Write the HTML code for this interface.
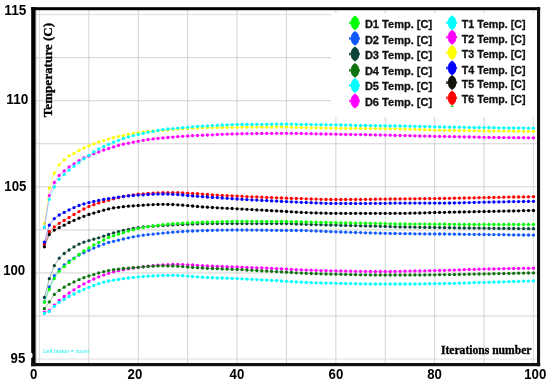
<!DOCTYPE html>
<html><head><meta charset="utf-8"><title>Temperature vs Iterations</title>
<style>
html,body{margin:0;padding:0;background:#fff;}
body{width:550px;height:385px;overflow:hidden;}
svg{display:block;}
.tk{font-family:"Liberation Sans",sans-serif;font-weight:bold;font-size:14px;fill:#000;}
.lg{font-family:"Liberation Sans",sans-serif;font-weight:bold;font-size:10.8px;fill:#111;stroke:#111;stroke-width:0.3px;}
.ax{font-family:"Liberation Serif",serif;font-weight:bold;font-size:13px;fill:#000;stroke:#000;stroke-width:0.35px;}
.hint{font-family:"Liberation Sans",sans-serif;font-size:6px;fill:#19f3f3;}
</style></head><body>
<svg width="550" height="385" viewBox="0 0 550 385">
<rect x="0" y="0" width="550" height="385" fill="#ffffff"/>
<path d="M88.85 10V363M138.25 10V363M187.65 10V363M237.05 10V363M286.45 10V363M335.85 10V363M385.25 10V363M434.65 10V363M484.05 10V363M35 57.66H538M35 100.72H538M35 143.78H538M35 186.84H538M35 229.90H538M35 272.96H538M35 316.02H538" stroke="#c6c6c6" stroke-width="0.78" fill="none"/>
<path d="M39.45 10V363M533.45 10V363M35 14.60H538M35 359.08H538" stroke="#d4d4d4" stroke-width="0.78" fill="none"/>
<rect x="331" y="13" width="206.5" height="104" fill="#ffffff"/>
<g stroke="#ff0000" fill="none"><path d="M44.4 244.4 L49.3 231.7 L54.3 226.9 L59.2 223.3 L64.2 220.4 L69.1 217.5 L74.0 214.5 L79.0 211.6 L83.9 209.0 L88.9 206.5 L93.8 204.7 L98.7 202.9 L103.7 201.5 L108.6 200.3 L113.6 198.8 L118.5 197.6 L123.4 196.5 L128.4 195.6 L133.3 194.8 L138.2 194.2 L143.2 193.8 L148.1 193.4 L153.1 193.1 L158.0 192.8 L163.0 192.7 L167.9 192.6 L172.8 192.6 L177.8 192.7 L182.7 192.9 L187.7 193.2 L192.6 193.5 L197.5 193.7 L202.5 194.1 L207.4 194.5 L212.4 194.9 L217.3 195.1 L222.2 195.4 L227.2 195.6 L232.1 195.9 L237.1 196.1 L242.0 196.3 L246.9 196.6 L251.9 196.8 L256.8 197.0 L261.8 197.2 L266.7 197.4 L271.6 197.6 L276.6 197.8 L281.5 198.0 L286.5 198.2 L291.4 198.4 L296.3 198.5 L301.3 198.6 L306.2 198.8 L311.2 199.0 L316.1 199.1 L321.0 199.3 L326.0 199.4 L330.9 199.5 L335.9 199.5 L340.8 199.5 L345.7 199.5 L350.7 199.4 L355.6 199.4 L360.6 199.4 L365.5 199.3 L370.4 199.3 L375.4 199.2 L380.3 199.1 L385.2 199.1 L390.2 199.0 L395.1 199.0 L400.1 198.9 L405.0 198.8 L410.0 198.8 L414.9 198.8 L419.8 198.7 L424.8 198.7 L429.7 198.6 L434.7 198.6 L439.6 198.5 L444.5 198.4 L449.5 198.3 L454.4 198.2 L459.4 198.1 L464.3 198.0 L469.2 197.9 L474.2 197.8 L479.1 197.7 L484.1 197.6 L489.0 197.5 L493.9 197.4 L498.9 197.3 L503.8 197.2 L508.8 197.1 L513.7 197.0 L518.6 197.0 L523.6 196.9 L528.5 196.8 L533.5 196.7" stroke-width="0.7" stroke-opacity="0.6"/><path d="M44.4 244.4h0M49.3 231.7h0M54.3 226.9h0M59.2 223.3h0M64.2 220.4h0M69.1 217.5h0M74.0 214.5h0M79.0 211.6h0M83.9 209.0h0M88.9 206.5h0M93.8 204.7h0M98.7 202.9h0M103.7 201.5h0M108.6 200.3h0M113.6 198.8h0M118.5 197.6h0M123.4 196.5h0M128.4 195.6h0M133.3 194.8h0M138.2 194.2h0M143.2 193.8h0M148.1 193.4h0M153.1 193.1h0M158.0 192.8h0M163.0 192.7h0M167.9 192.6h0M172.8 192.6h0M177.8 192.7h0M182.7 192.9h0M187.7 193.2h0M192.6 193.5h0M197.5 193.7h0M202.5 194.1h0M207.4 194.5h0M212.4 194.9h0M217.3 195.1h0M222.2 195.4h0M227.2 195.6h0M232.1 195.9h0M237.1 196.1h0M242.0 196.3h0M246.9 196.6h0M251.9 196.8h0M256.8 197.0h0M261.8 197.2h0M266.7 197.4h0M271.6 197.6h0M276.6 197.8h0M281.5 198.0h0M286.5 198.2h0M291.4 198.4h0M296.3 198.5h0M301.3 198.6h0M306.2 198.8h0M311.2 199.0h0M316.1 199.1h0M321.0 199.3h0M326.0 199.4h0M330.9 199.5h0M335.9 199.5h0M340.8 199.5h0M345.7 199.5h0M350.7 199.4h0M355.6 199.4h0M360.6 199.4h0M365.5 199.3h0M370.4 199.3h0M375.4 199.2h0M380.3 199.1h0M385.2 199.1h0M390.2 199.0h0M395.1 199.0h0M400.1 198.9h0M405.0 198.8h0M410.0 198.8h0M414.9 198.8h0M419.8 198.7h0M424.8 198.7h0M429.7 198.6h0M434.7 198.6h0M439.6 198.5h0M444.5 198.4h0M449.5 198.3h0M454.4 198.2h0M459.4 198.1h0M464.3 198.0h0M469.2 197.9h0M474.2 197.8h0M479.1 197.7h0M484.1 197.6h0M489.0 197.5h0M493.9 197.4h0M498.9 197.3h0M503.8 197.2h0M508.8 197.1h0M513.7 197.0h0M518.6 197.0h0M523.6 196.9h0M528.5 196.8h0M533.5 196.7h0" stroke-width="3.3" stroke-linecap="round"/></g>
<g stroke="#000000" fill="none"><path d="M44.4 246.8 L49.3 234.5 L54.3 230.1 L59.2 227.6 L64.2 225.2 L69.1 222.5 L74.0 220.4 L79.0 218.2 L83.9 216.3 L88.9 214.5 L93.8 213.1 L98.7 211.6 L103.7 210.2 L108.6 208.9 L113.6 207.9 L118.5 207.3 L123.4 206.7 L128.4 206.2 L133.3 205.8 L138.2 205.5 L143.2 205.2 L148.1 204.8 L153.1 204.6 L158.0 204.4 L163.0 204.3 L167.9 204.4 L172.8 204.5 L177.8 204.8 L182.7 205.2 L187.7 205.6 L192.6 206.0 L197.5 206.5 L202.5 206.9 L207.4 207.2 L212.4 207.5 L217.3 207.8 L222.2 208.1 L227.2 208.3 L232.1 208.5 L237.1 208.8 L242.0 209.1 L246.9 209.3 L251.9 209.6 L256.8 209.9 L261.8 210.1 L266.7 210.4 L271.6 210.7 L276.6 210.9 L281.5 211.2 L286.5 211.5 L291.4 211.8 L296.3 212.1 L301.3 212.4 L306.2 212.6 L311.2 212.8 L316.1 212.9 L321.0 213.1 L326.0 213.2 L330.9 213.3 L335.9 213.3 L340.8 213.3 L345.7 213.3 L350.7 213.3 L355.6 213.3 L360.6 213.3 L365.5 213.3 L370.4 213.3 L375.4 213.3 L380.3 213.3 L385.2 213.3 L390.2 213.3 L395.1 213.3 L400.1 213.3 L405.0 213.3 L410.0 213.2 L414.9 213.1 L419.8 213.0 L424.8 212.8 L429.7 212.7 L434.7 212.5 L439.6 212.4 L444.5 212.3 L449.5 212.2 L454.4 212.1 L459.4 212.0 L464.3 211.9 L469.2 211.8 L474.2 211.7 L479.1 211.6 L484.1 211.5 L489.0 211.4 L493.9 211.3 L498.9 211.2 L503.8 211.1 L508.8 211.0 L513.7 210.9 L518.6 210.8 L523.6 210.7 L528.5 210.6 L533.5 210.5" stroke-width="0.7" stroke-opacity="0.6"/><path d="M44.4 246.8h0M49.3 234.5h0M54.3 230.1h0M59.2 227.6h0M64.2 225.2h0M69.1 222.5h0M74.0 220.4h0M79.0 218.2h0M83.9 216.3h0M88.9 214.5h0M93.8 213.1h0M98.7 211.6h0M103.7 210.2h0M108.6 208.9h0M113.6 207.9h0M118.5 207.3h0M123.4 206.7h0M128.4 206.2h0M133.3 205.8h0M138.2 205.5h0M143.2 205.2h0M148.1 204.8h0M153.1 204.6h0M158.0 204.4h0M163.0 204.3h0M167.9 204.4h0M172.8 204.5h0M177.8 204.8h0M182.7 205.2h0M187.7 205.6h0M192.6 206.0h0M197.5 206.5h0M202.5 206.9h0M207.4 207.2h0M212.4 207.5h0M217.3 207.8h0M222.2 208.1h0M227.2 208.3h0M232.1 208.5h0M237.1 208.8h0M242.0 209.1h0M246.9 209.3h0M251.9 209.6h0M256.8 209.9h0M261.8 210.1h0M266.7 210.4h0M271.6 210.7h0M276.6 210.9h0M281.5 211.2h0M286.5 211.5h0M291.4 211.8h0M296.3 212.1h0M301.3 212.4h0M306.2 212.6h0M311.2 212.8h0M316.1 212.9h0M321.0 213.1h0M326.0 213.2h0M330.9 213.3h0M335.9 213.3h0M340.8 213.3h0M345.7 213.3h0M350.7 213.3h0M355.6 213.3h0M360.6 213.3h0M365.5 213.3h0M370.4 213.3h0M375.4 213.3h0M380.3 213.3h0M385.2 213.3h0M390.2 213.3h0M395.1 213.3h0M400.1 213.3h0M405.0 213.3h0M410.0 213.2h0M414.9 213.1h0M419.8 213.0h0M424.8 212.8h0M429.7 212.7h0M434.7 212.5h0M439.6 212.4h0M444.5 212.3h0M449.5 212.2h0M454.4 212.1h0M459.4 212.0h0M464.3 211.9h0M469.2 211.8h0M474.2 211.7h0M479.1 211.6h0M484.1 211.5h0M489.0 211.4h0M493.9 211.3h0M498.9 211.2h0M503.8 211.1h0M508.8 211.0h0M513.7 210.9h0M518.6 210.8h0M523.6 210.7h0M528.5 210.6h0M533.5 210.5h0" stroke-width="3.3" stroke-linecap="round"/></g>
<g stroke="#0000ff" fill="none"><path d="M44.4 242.2 L49.3 225.2 L54.3 218.6 L59.2 215.0 L64.2 212.4 L69.1 209.9 L74.0 207.6 L79.0 205.5 L83.9 203.9 L88.9 202.6 L93.8 201.5 L98.7 200.4 L103.7 199.4 L108.6 198.6 L113.6 197.8 L118.5 197.1 L123.4 196.5 L128.4 195.9 L133.3 195.5 L138.2 195.1 L143.2 194.8 L148.1 194.5 L153.1 194.2 L158.0 194.1 L163.0 194.0 L167.9 194.1 L172.8 194.3 L177.8 194.6 L182.7 195.0 L187.7 195.5 L192.6 195.9 L197.5 196.3 L202.5 196.7 L207.4 197.0 L212.4 197.4 L217.3 197.6 L222.2 198.0 L227.2 198.3 L232.1 198.7 L237.1 199.0 L242.0 199.3 L246.9 199.6 L251.9 199.9 L256.8 200.1 L261.8 200.4 L266.7 200.6 L271.6 200.9 L276.6 201.1 L281.5 201.4 L286.5 201.6 L291.4 201.8 L296.3 202.1 L301.3 202.3 L306.2 202.5 L311.2 202.7 L316.1 202.9 L321.0 203.1 L326.0 203.3 L330.9 203.4 L335.9 203.4 L340.8 203.4 L345.7 203.4 L350.7 203.4 L355.6 203.4 L360.6 203.4 L365.5 203.4 L370.4 203.3 L375.4 203.3 L380.3 203.3 L385.2 203.3 L390.2 203.2 L395.1 203.1 L400.1 203.1 L405.0 203.1 L410.0 203.1 L414.9 203.1 L419.8 203.1 L424.8 203.1 L429.7 203.1 L434.7 203.1 L439.6 203.1 L444.5 203.1 L449.5 203.0 L454.4 202.9 L459.4 202.8 L464.3 202.7 L469.2 202.6 L474.2 202.4 L479.1 202.3 L484.1 202.2 L489.0 202.1 L493.9 202.0 L498.9 201.9 L503.8 201.8 L508.8 201.7 L513.7 201.6 L518.6 201.6 L523.6 201.5 L528.5 201.4 L533.5 201.3" stroke-width="0.7" stroke-opacity="0.6"/><path d="M44.4 242.2h0M49.3 225.2h0M54.3 218.6h0M59.2 215.0h0M64.2 212.4h0M69.1 209.9h0M74.0 207.6h0M79.0 205.5h0M83.9 203.9h0M88.9 202.6h0M93.8 201.5h0M98.7 200.4h0M103.7 199.4h0M108.6 198.6h0M113.6 197.8h0M118.5 197.1h0M123.4 196.5h0M128.4 195.9h0M133.3 195.5h0M138.2 195.1h0M143.2 194.8h0M148.1 194.5h0M153.1 194.2h0M158.0 194.1h0M163.0 194.0h0M167.9 194.1h0M172.8 194.3h0M177.8 194.6h0M182.7 195.0h0M187.7 195.5h0M192.6 195.9h0M197.5 196.3h0M202.5 196.7h0M207.4 197.0h0M212.4 197.4h0M217.3 197.6h0M222.2 198.0h0M227.2 198.3h0M232.1 198.7h0M237.1 199.0h0M242.0 199.3h0M246.9 199.6h0M251.9 199.9h0M256.8 200.1h0M261.8 200.4h0M266.7 200.6h0M271.6 200.9h0M276.6 201.1h0M281.5 201.4h0M286.5 201.6h0M291.4 201.8h0M296.3 202.1h0M301.3 202.3h0M306.2 202.5h0M311.2 202.7h0M316.1 202.9h0M321.0 203.1h0M326.0 203.3h0M330.9 203.4h0M335.9 203.4h0M340.8 203.4h0M345.7 203.4h0M350.7 203.4h0M355.6 203.4h0M360.6 203.4h0M365.5 203.4h0M370.4 203.3h0M375.4 203.3h0M380.3 203.3h0M385.2 203.3h0M390.2 203.2h0M395.1 203.1h0M400.1 203.1h0M405.0 203.1h0M410.0 203.1h0M414.9 203.1h0M419.8 203.1h0M424.8 203.1h0M429.7 203.1h0M434.7 203.1h0M439.6 203.1h0M444.5 203.1h0M449.5 203.0h0M454.4 202.9h0M459.4 202.8h0M464.3 202.7h0M469.2 202.6h0M474.2 202.4h0M479.1 202.3h0M484.1 202.2h0M489.0 202.1h0M493.9 202.0h0M498.9 201.9h0M503.8 201.8h0M508.8 201.7h0M513.7 201.6h0M518.6 201.6h0M523.6 201.5h0M528.5 201.4h0M533.5 201.3h0" stroke-width="3.3" stroke-linecap="round"/></g>
<g stroke="#ffff00" fill="none"><path d="M44.4 223.3 L49.3 188.1 L54.3 173.2 L59.2 164.8 L64.2 159.9 L69.1 155.8 L74.0 153.3 L79.0 150.5 L83.9 148.0 L88.9 145.8 L93.8 143.9 L98.7 142.1 L103.7 140.6 L108.6 139.1 L113.6 137.7 L118.5 136.4 L123.4 135.4 L128.4 134.4 L133.3 133.4 L138.2 132.6 L143.2 131.9 L148.1 131.3 L153.1 131.0 L158.0 130.7 L163.0 130.4 L167.9 130.0 L172.8 129.5 L177.8 129.1 L182.7 128.7 L187.7 128.4 L192.6 128.2 L197.5 128.0 L202.5 127.8 L207.4 127.6 L212.4 127.6 L217.3 127.5 L222.2 127.4 L227.2 127.4 L232.1 127.3 L237.1 127.3 L242.0 127.3 L246.9 127.2 L251.9 127.1 L256.8 127.1 L261.8 127.0 L266.7 127.0 L271.6 127.0 L276.6 126.9 L281.5 126.9 L286.5 126.9 L291.4 127.0 L296.3 127.3 L301.3 127.4 L306.2 127.6 L311.2 127.7 L316.1 127.8 L321.0 127.9 L326.0 128.1 L330.9 128.1 L335.9 128.2 L340.8 128.3 L345.7 128.3 L350.7 128.4 L355.6 128.4 L360.6 128.5 L365.5 128.5 L370.4 128.6 L375.4 128.6 L380.3 128.7 L385.2 128.7 L390.2 128.8 L395.1 128.8 L400.1 128.9 L405.0 129.0 L410.0 129.2 L414.9 129.3 L419.8 129.5 L424.8 129.7 L429.7 129.9 L434.7 130.1 L439.6 130.2 L444.5 130.3 L449.5 130.4 L454.4 130.5 L459.4 130.6 L464.3 130.6 L469.2 130.7 L474.2 130.8 L479.1 130.8 L484.1 130.9 L489.0 131.0 L493.9 131.0 L498.9 131.1 L503.8 131.1 L508.8 131.1 L513.7 131.2 L518.6 131.2 L523.6 131.3 L528.5 131.3 L533.5 131.3" stroke-width="0.7" stroke-opacity="0.6"/><path d="M44.4 223.3h0M49.3 188.1h0M54.3 173.2h0M59.2 164.8h0M64.2 159.9h0M69.1 155.8h0M74.0 153.3h0M79.0 150.5h0M83.9 148.0h0M88.9 145.8h0M93.8 143.9h0M98.7 142.1h0M103.7 140.6h0M108.6 139.1h0M113.6 137.7h0M118.5 136.4h0M123.4 135.4h0M128.4 134.4h0M133.3 133.4h0M138.2 132.6h0M143.2 131.9h0M148.1 131.3h0M153.1 131.0h0M158.0 130.7h0M163.0 130.4h0M167.9 130.0h0M172.8 129.5h0M177.8 129.1h0M182.7 128.7h0M187.7 128.4h0M192.6 128.2h0M197.5 128.0h0M202.5 127.8h0M207.4 127.6h0M212.4 127.6h0M217.3 127.5h0M222.2 127.4h0M227.2 127.4h0M232.1 127.3h0M237.1 127.3h0M242.0 127.3h0M246.9 127.2h0M251.9 127.1h0M256.8 127.1h0M261.8 127.0h0M266.7 127.0h0M271.6 127.0h0M276.6 126.9h0M281.5 126.9h0M286.5 126.9h0M291.4 127.0h0M296.3 127.3h0M301.3 127.4h0M306.2 127.6h0M311.2 127.7h0M316.1 127.8h0M321.0 127.9h0M326.0 128.1h0M330.9 128.1h0M335.9 128.2h0M340.8 128.3h0M345.7 128.3h0M350.7 128.4h0M355.6 128.4h0M360.6 128.5h0M365.5 128.5h0M370.4 128.6h0M375.4 128.6h0M380.3 128.7h0M385.2 128.7h0M390.2 128.8h0M395.1 128.8h0M400.1 128.9h0M405.0 129.0h0M410.0 129.2h0M414.9 129.3h0M419.8 129.5h0M424.8 129.7h0M429.7 129.9h0M434.7 130.1h0M439.6 130.2h0M444.5 130.3h0M449.5 130.4h0M454.4 130.5h0M459.4 130.6h0M464.3 130.6h0M469.2 130.7h0M474.2 130.8h0M479.1 130.8h0M484.1 130.9h0M489.0 131.0h0M493.9 131.0h0M498.9 131.1h0M503.8 131.1h0M508.8 131.1h0M513.7 131.2h0M518.6 131.2h0M523.6 131.3h0M528.5 131.3h0M533.5 131.3h0" stroke-width="3.3" stroke-linecap="round"/></g>
<g stroke="#ff00ff" fill="none"><path d="M44.4 227.4 L49.3 195.6 L54.3 182.5 L59.2 175.3 L64.2 170.9 L69.1 167.0 L74.0 163.8 L79.0 160.6 L83.9 158.0 L88.9 156.0 L93.8 153.7 L98.7 151.9 L103.7 150.0 L108.6 148.5 L113.6 146.9 L118.5 145.4 L123.4 144.2 L128.4 143.2 L133.3 142.2 L138.2 141.3 L143.2 140.3 L148.1 139.5 L153.1 138.9 L158.0 138.4 L163.0 137.9 L167.9 137.5 L172.8 137.1 L177.8 136.7 L182.7 136.3 L187.7 136.0 L192.6 135.7 L197.5 135.5 L202.5 135.2 L207.4 135.0 L212.4 134.8 L217.3 134.5 L222.2 134.3 L227.2 134.1 L232.1 133.9 L237.1 133.8 L242.0 133.7 L246.9 133.6 L251.9 133.6 L256.8 133.5 L261.8 133.4 L266.7 133.4 L271.6 133.4 L276.6 133.3 L281.5 133.3 L286.5 133.3 L291.4 133.3 L296.3 133.4 L301.3 133.5 L306.2 133.6 L311.2 133.7 L316.1 133.8 L321.0 133.9 L326.0 134.0 L330.9 134.1 L335.9 134.2 L340.8 134.3 L345.7 134.4 L350.7 134.5 L355.6 134.6 L360.6 134.6 L365.5 134.7 L370.4 134.8 L375.4 134.9 L380.3 135.0 L385.2 135.1 L390.2 135.2 L395.1 135.4 L400.1 135.5 L405.0 135.6 L410.0 135.7 L414.9 135.8 L419.8 136.0 L424.8 136.1 L429.7 136.2 L434.7 136.3 L439.6 136.4 L444.5 136.5 L449.5 136.6 L454.4 136.7 L459.4 136.8 L464.3 136.9 L469.2 137.0 L474.2 137.1 L479.1 137.2 L484.1 137.3 L489.0 137.4 L493.9 137.4 L498.9 137.5 L503.8 137.6 L508.8 137.6 L513.7 137.7 L518.6 137.7 L523.6 137.7 L528.5 137.8 L533.5 137.8" stroke-width="0.7" stroke-opacity="0.6"/><path d="M44.4 227.4h0M49.3 195.6h0M54.3 182.5h0M59.2 175.3h0M64.2 170.9h0M69.1 167.0h0M74.0 163.8h0M79.0 160.6h0M83.9 158.0h0M88.9 156.0h0M93.8 153.7h0M98.7 151.9h0M103.7 150.0h0M108.6 148.5h0M113.6 146.9h0M118.5 145.4h0M123.4 144.2h0M128.4 143.2h0M133.3 142.2h0M138.2 141.3h0M143.2 140.3h0M148.1 139.5h0M153.1 138.9h0M158.0 138.4h0M163.0 137.9h0M167.9 137.5h0M172.8 137.1h0M177.8 136.7h0M182.7 136.3h0M187.7 136.0h0M192.6 135.7h0M197.5 135.5h0M202.5 135.2h0M207.4 135.0h0M212.4 134.8h0M217.3 134.5h0M222.2 134.3h0M227.2 134.1h0M232.1 133.9h0M237.1 133.8h0M242.0 133.7h0M246.9 133.6h0M251.9 133.6h0M256.8 133.5h0M261.8 133.4h0M266.7 133.4h0M271.6 133.4h0M276.6 133.3h0M281.5 133.3h0M286.5 133.3h0M291.4 133.3h0M296.3 133.4h0M301.3 133.5h0M306.2 133.6h0M311.2 133.7h0M316.1 133.8h0M321.0 133.9h0M326.0 134.0h0M330.9 134.1h0M335.9 134.2h0M340.8 134.3h0M345.7 134.4h0M350.7 134.5h0M355.6 134.6h0M360.6 134.6h0M365.5 134.7h0M370.4 134.8h0M375.4 134.9h0M380.3 135.0h0M385.2 135.1h0M390.2 135.2h0M395.1 135.4h0M400.1 135.5h0M405.0 135.6h0M410.0 135.7h0M414.9 135.8h0M419.8 136.0h0M424.8 136.1h0M429.7 136.2h0M434.7 136.3h0M439.6 136.4h0M444.5 136.5h0M449.5 136.6h0M454.4 136.7h0M459.4 136.8h0M464.3 136.9h0M469.2 137.0h0M474.2 137.1h0M479.1 137.2h0M484.1 137.3h0M489.0 137.4h0M493.9 137.4h0M498.9 137.5h0M503.8 137.6h0M508.8 137.6h0M513.7 137.7h0M518.6 137.7h0M523.6 137.7h0M528.5 137.8h0M533.5 137.8h0" stroke-width="3.3" stroke-linecap="round"/></g>
<g stroke="#00ffff" fill="none"><path d="M44.4 227.3 L49.3 199.3 L54.3 186.9 L59.2 179.3 L64.2 174.5 L69.1 170.2 L74.0 166.2 L79.0 162.6 L83.9 158.8 L88.9 155.3 L93.8 151.9 L98.7 149.0 L103.7 146.5 L108.6 144.3 L113.6 142.2 L118.5 140.3 L123.4 138.5 L128.4 136.9 L133.3 135.6 L138.2 134.4 L143.2 133.3 L148.1 132.3 L153.1 131.3 L158.0 130.4 L163.0 129.6 L167.9 129.0 L172.8 128.6 L177.8 128.1 L182.7 127.7 L187.7 127.3 L192.6 126.8 L197.5 126.4 L202.5 126.1 L207.4 125.8 L212.4 125.6 L217.3 125.3 L222.2 125.0 L227.2 124.8 L232.1 124.6 L237.1 124.5 L242.0 124.4 L246.9 124.4 L251.9 124.4 L256.8 124.3 L261.8 124.3 L266.7 124.3 L271.6 124.2 L276.6 124.2 L281.5 124.2 L286.5 124.2 L291.4 124.2 L296.3 124.3 L301.3 124.4 L306.2 124.5 L311.2 124.6 L316.1 124.6 L321.0 124.7 L326.0 124.8 L330.9 124.8 L335.9 124.9 L340.8 125.0 L345.7 125.1 L350.7 125.2 L355.6 125.3 L360.6 125.4 L365.5 125.5 L370.4 125.6 L375.4 125.6 L380.3 125.7 L385.2 125.8 L390.2 125.9 L395.1 125.9 L400.1 126.0 L405.0 126.1 L410.0 126.2 L414.9 126.3 L419.8 126.4 L424.8 126.6 L429.7 126.7 L434.7 126.8 L439.6 126.9 L444.5 127.0 L449.5 127.1 L454.4 127.2 L459.4 127.2 L464.3 127.3 L469.2 127.4 L474.2 127.5 L479.1 127.5 L484.1 127.6 L489.0 127.7 L493.9 127.7 L498.9 127.8 L503.8 127.9 L508.8 127.9 L513.7 128.0 L518.6 128.0 L523.6 128.1 L528.5 128.1 L533.5 128.2" stroke-width="0.7" stroke-opacity="0.6"/><path d="M44.4 227.3h0M49.3 199.3h0M54.3 186.9h0M59.2 179.3h0M64.2 174.5h0M69.1 170.2h0M74.0 166.2h0M79.0 162.6h0M83.9 158.8h0M88.9 155.3h0M93.8 151.9h0M98.7 149.0h0M103.7 146.5h0M108.6 144.3h0M113.6 142.2h0M118.5 140.3h0M123.4 138.5h0M128.4 136.9h0M133.3 135.6h0M138.2 134.4h0M143.2 133.3h0M148.1 132.3h0M153.1 131.3h0M158.0 130.4h0M163.0 129.6h0M167.9 129.0h0M172.8 128.6h0M177.8 128.1h0M182.7 127.7h0M187.7 127.3h0M192.6 126.8h0M197.5 126.4h0M202.5 126.1h0M207.4 125.8h0M212.4 125.6h0M217.3 125.3h0M222.2 125.0h0M227.2 124.8h0M232.1 124.6h0M237.1 124.5h0M242.0 124.4h0M246.9 124.4h0M251.9 124.4h0M256.8 124.3h0M261.8 124.3h0M266.7 124.3h0M271.6 124.2h0M276.6 124.2h0M281.5 124.2h0M286.5 124.2h0M291.4 124.2h0M296.3 124.3h0M301.3 124.4h0M306.2 124.5h0M311.2 124.6h0M316.1 124.6h0M321.0 124.7h0M326.0 124.8h0M330.9 124.8h0M335.9 124.9h0M340.8 125.0h0M345.7 125.1h0M350.7 125.2h0M355.6 125.3h0M360.6 125.4h0M365.5 125.5h0M370.4 125.6h0M375.4 125.6h0M380.3 125.7h0M385.2 125.8h0M390.2 125.9h0M395.1 125.9h0M400.1 126.0h0M405.0 126.1h0M410.0 126.2h0M414.9 126.3h0M419.8 126.4h0M424.8 126.6h0M429.7 126.7h0M434.7 126.8h0M439.6 126.9h0M444.5 127.0h0M449.5 127.1h0M454.4 127.2h0M459.4 127.2h0M464.3 127.3h0M469.2 127.4h0M474.2 127.5h0M479.1 127.5h0M484.1 127.6h0M489.0 127.7h0M493.9 127.7h0M498.9 127.8h0M503.8 127.9h0M508.8 127.9h0M513.7 128.0h0M518.6 128.0h0M523.6 128.1h0M528.5 128.1h0M533.5 128.2h0" stroke-width="3.3" stroke-linecap="round"/></g>
<g stroke="#ff00ff" fill="none"><path d="M44.4 312.1 L49.3 310.3 L54.3 305.1 L59.2 300.5 L64.2 296.5 L69.1 293.0 L74.0 289.8 L79.0 286.5 L83.9 283.9 L88.9 281.4 L93.8 279.0 L98.7 276.8 L103.7 275.1 L108.6 273.3 L113.6 271.8 L118.5 270.7 L123.4 269.7 L128.4 268.8 L133.3 268.0 L138.2 267.3 L143.2 266.7 L148.1 266.1 L153.1 265.6 L158.0 265.2 L163.0 264.9 L167.9 264.7 L172.8 264.5 L177.8 264.5 L182.7 264.6 L187.7 264.8 L192.6 265.0 L197.5 265.3 L202.5 265.7 L207.4 266.0 L212.4 266.2 L217.3 266.4 L222.2 266.5 L227.2 266.7 L232.1 266.8 L237.1 267.0 L242.0 267.2 L246.9 267.4 L251.9 267.6 L256.8 267.8 L261.8 268.0 L266.7 268.2 L271.6 268.4 L276.6 268.6 L281.5 268.9 L286.5 269.1 L291.4 269.4 L296.3 269.6 L301.3 269.9 L306.2 270.1 L311.2 270.2 L316.1 270.4 L321.0 270.6 L326.0 270.7 L330.9 270.8 L335.9 270.9 L340.8 271.0 L345.7 271.1 L350.7 271.2 L355.6 271.3 L360.6 271.3 L365.5 271.4 L370.4 271.4 L375.4 271.5 L380.3 271.5 L385.2 271.5 L390.2 271.5 L395.1 271.4 L400.1 271.3 L405.0 271.2 L410.0 271.1 L414.9 271.0 L419.8 271.0 L424.8 270.8 L429.7 270.7 L434.7 270.6 L439.6 270.5 L444.5 270.4 L449.5 270.2 L454.4 270.1 L459.4 269.9 L464.3 269.7 L469.2 269.5 L474.2 269.4 L479.1 269.2 L484.1 269.1 L489.0 269.0 L493.9 268.9 L498.9 268.8 L503.8 268.7 L508.8 268.6 L513.7 268.5 L518.6 268.4 L523.6 268.3 L528.5 268.3 L533.5 268.2" stroke-width="0.7" stroke-opacity="0.6"/><path d="M44.4 312.1h0M49.3 310.3h0M54.3 305.1h0M59.2 300.5h0M64.2 296.5h0M69.1 293.0h0M74.0 289.8h0M79.0 286.5h0M83.9 283.9h0M88.9 281.4h0M93.8 279.0h0M98.7 276.8h0M103.7 275.1h0M108.6 273.3h0M113.6 271.8h0M118.5 270.7h0M123.4 269.7h0M128.4 268.8h0M133.3 268.0h0M138.2 267.3h0M143.2 266.7h0M148.1 266.1h0M153.1 265.6h0M158.0 265.2h0M163.0 264.9h0M167.9 264.7h0M172.8 264.5h0M177.8 264.5h0M182.7 264.6h0M187.7 264.8h0M192.6 265.0h0M197.5 265.3h0M202.5 265.7h0M207.4 266.0h0M212.4 266.2h0M217.3 266.4h0M222.2 266.5h0M227.2 266.7h0M232.1 266.8h0M237.1 267.0h0M242.0 267.2h0M246.9 267.4h0M251.9 267.6h0M256.8 267.8h0M261.8 268.0h0M266.7 268.2h0M271.6 268.4h0M276.6 268.6h0M281.5 268.9h0M286.5 269.1h0M291.4 269.4h0M296.3 269.6h0M301.3 269.9h0M306.2 270.1h0M311.2 270.2h0M316.1 270.4h0M321.0 270.6h0M326.0 270.7h0M330.9 270.8h0M335.9 270.9h0M340.8 271.0h0M345.7 271.1h0M350.7 271.2h0M355.6 271.3h0M360.6 271.3h0M365.5 271.4h0M370.4 271.4h0M375.4 271.5h0M380.3 271.5h0M385.2 271.5h0M390.2 271.5h0M395.1 271.4h0M400.1 271.3h0M405.0 271.2h0M410.0 271.1h0M414.9 271.0h0M419.8 271.0h0M424.8 270.8h0M429.7 270.7h0M434.7 270.6h0M439.6 270.5h0M444.5 270.4h0M449.5 270.2h0M454.4 270.1h0M459.4 269.9h0M464.3 269.7h0M469.2 269.5h0M474.2 269.4h0M479.1 269.2h0M484.1 269.1h0M489.0 269.0h0M493.9 268.9h0M498.9 268.8h0M503.8 268.7h0M508.8 268.6h0M513.7 268.5h0M518.6 268.4h0M523.6 268.3h0M528.5 268.3h0M533.5 268.2h0" stroke-width="3.3" stroke-linecap="round"/></g>
<g stroke="#00ffff" fill="none"><path d="M44.4 313.5 L49.3 311.4 L54.3 306.3 L59.2 302.3 L64.2 299.4 L69.1 296.5 L74.0 294.0 L79.0 291.4 L83.9 289.4 L88.9 287.3 L93.8 285.5 L98.7 283.7 L103.7 282.2 L108.6 281.0 L113.6 280.2 L118.5 279.4 L123.4 278.7 L128.4 278.0 L133.3 277.4 L138.2 276.9 L143.2 276.5 L148.1 276.2 L153.1 275.9 L158.0 275.7 L163.0 275.5 L167.9 275.4 L172.8 275.3 L177.8 275.4 L182.7 275.7 L187.7 276.1 L192.6 276.5 L197.5 276.9 L202.5 277.2 L207.4 277.5 L212.4 277.7 L217.3 277.9 L222.2 278.0 L227.2 278.2 L232.1 278.4 L237.1 278.6 L242.0 278.8 L246.9 279.1 L251.9 279.3 L256.8 279.6 L261.8 279.9 L266.7 280.1 L271.6 280.4 L276.6 280.7 L281.5 281.0 L286.5 281.3 L291.4 281.6 L296.3 281.9 L301.3 282.2 L306.2 282.4 L311.2 282.6 L316.1 282.8 L321.0 282.9 L326.0 283.1 L330.9 283.2 L335.9 283.3 L340.8 283.4 L345.7 283.5 L350.7 283.6 L355.6 283.7 L360.6 283.8 L365.5 283.9 L370.4 283.9 L375.4 284.0 L380.3 284.0 L385.2 284.0 L390.2 284.0 L395.1 284.0 L400.1 284.0 L405.0 284.0 L410.0 284.0 L414.9 283.9 L419.8 283.9 L424.8 283.8 L429.7 283.7 L434.7 283.7 L439.6 283.6 L444.5 283.5 L449.5 283.4 L454.4 283.3 L459.4 283.2 L464.3 283.0 L469.2 282.9 L474.2 282.7 L479.1 282.5 L484.1 282.4 L489.0 282.3 L493.9 282.1 L498.9 282.0 L503.8 281.8 L508.8 281.7 L513.7 281.5 L518.6 281.4 L523.6 281.2 L528.5 281.1 L533.5 280.9" stroke-width="0.7" stroke-opacity="0.6"/><path d="M44.4 313.5h0M49.3 311.4h0M54.3 306.3h0M59.2 302.3h0M64.2 299.4h0M69.1 296.5h0M74.0 294.0h0M79.0 291.4h0M83.9 289.4h0M88.9 287.3h0M93.8 285.5h0M98.7 283.7h0M103.7 282.2h0M108.6 281.0h0M113.6 280.2h0M118.5 279.4h0M123.4 278.7h0M128.4 278.0h0M133.3 277.4h0M138.2 276.9h0M143.2 276.5h0M148.1 276.2h0M153.1 275.9h0M158.0 275.7h0M163.0 275.5h0M167.9 275.4h0M172.8 275.3h0M177.8 275.4h0M182.7 275.7h0M187.7 276.1h0M192.6 276.5h0M197.5 276.9h0M202.5 277.2h0M207.4 277.5h0M212.4 277.7h0M217.3 277.9h0M222.2 278.0h0M227.2 278.2h0M232.1 278.4h0M237.1 278.6h0M242.0 278.8h0M246.9 279.1h0M251.9 279.3h0M256.8 279.6h0M261.8 279.9h0M266.7 280.1h0M271.6 280.4h0M276.6 280.7h0M281.5 281.0h0M286.5 281.3h0M291.4 281.6h0M296.3 281.9h0M301.3 282.2h0M306.2 282.4h0M311.2 282.6h0M316.1 282.8h0M321.0 282.9h0M326.0 283.1h0M330.9 283.2h0M335.9 283.3h0M340.8 283.4h0M345.7 283.5h0M350.7 283.6h0M355.6 283.7h0M360.6 283.8h0M365.5 283.9h0M370.4 283.9h0M375.4 284.0h0M380.3 284.0h0M385.2 284.0h0M390.2 284.0h0M395.1 284.0h0M400.1 284.0h0M405.0 284.0h0M410.0 284.0h0M414.9 283.9h0M419.8 283.9h0M424.8 283.8h0M429.7 283.7h0M434.7 283.7h0M439.6 283.6h0M444.5 283.5h0M449.5 283.4h0M454.4 283.3h0M459.4 283.2h0M464.3 283.0h0M469.2 282.9h0M474.2 282.7h0M479.1 282.5h0M484.1 282.4h0M489.0 282.3h0M493.9 282.1h0M498.9 282.0h0M503.8 281.8h0M508.8 281.7h0M513.7 281.5h0M518.6 281.4h0M523.6 281.2h0M528.5 281.1h0M533.5 280.9h0" stroke-width="3.3" stroke-linecap="round"/></g>
<g stroke="#0e720e" fill="none"><path d="M44.4 308.7 L49.3 301.9 L54.3 294.4 L59.2 290.4 L64.2 287.2 L69.1 284.3 L74.0 282.0 L79.0 279.7 L83.9 277.7 L88.9 276.0 L93.8 274.6 L98.7 272.9 L103.7 271.7 L108.6 270.6 L113.6 269.7 L118.5 269.1 L123.4 268.5 L128.4 268.1 L133.3 267.7 L138.2 267.3 L143.2 266.9 L148.1 266.5 L153.1 266.2 L158.0 265.9 L163.0 265.8 L167.9 265.9 L172.8 266.0 L177.8 266.2 L182.7 266.6 L187.7 267.0 L192.6 267.4 L197.5 267.7 L202.5 268.0 L207.4 268.3 L212.4 268.5 L217.3 268.7 L222.2 268.9 L227.2 269.1 L232.1 269.3 L237.1 269.5 L242.0 269.7 L246.9 270.0 L251.9 270.2 L256.8 270.5 L261.8 270.8 L266.7 271.1 L271.6 271.3 L276.6 271.6 L281.5 271.9 L286.5 272.2 L291.4 272.5 L296.3 272.8 L301.3 273.1 L306.2 273.3 L311.2 273.5 L316.1 273.7 L321.0 273.8 L326.0 274.0 L330.9 274.1 L335.9 274.2 L340.8 274.3 L345.7 274.4 L350.7 274.6 L355.6 274.7 L360.6 274.8 L365.5 274.8 L370.4 274.9 L375.4 275.0 L380.3 275.0 L385.2 275.0 L390.2 275.0 L395.1 275.0 L400.1 275.0 L405.0 275.0 L410.0 275.0 L414.9 274.9 L419.8 274.9 L424.8 274.9 L429.7 274.8 L434.7 274.8 L439.6 274.7 L444.5 274.6 L449.5 274.6 L454.4 274.5 L459.4 274.4 L464.3 274.3 L469.2 274.2 L474.2 274.1 L479.1 274.0 L484.1 273.9 L489.0 273.8 L493.9 273.7 L498.9 273.6 L503.8 273.5 L508.8 273.4 L513.7 273.3 L518.6 273.2 L523.6 273.1 L528.5 273.0 L533.5 272.9" stroke-width="0.7" stroke-opacity="0.6"/><path d="M44.4 308.7h0M49.3 301.9h0M54.3 294.4h0M59.2 290.4h0M64.2 287.2h0M69.1 284.3h0M74.0 282.0h0M79.0 279.7h0M83.9 277.7h0M88.9 276.0h0M93.8 274.6h0M98.7 272.9h0M103.7 271.7h0M108.6 270.6h0M113.6 269.7h0M118.5 269.1h0M123.4 268.5h0M128.4 268.1h0M133.3 267.7h0M138.2 267.3h0M143.2 266.9h0M148.1 266.5h0M153.1 266.2h0M158.0 265.9h0M163.0 265.8h0M167.9 265.9h0M172.8 266.0h0M177.8 266.2h0M182.7 266.6h0M187.7 267.0h0M192.6 267.4h0M197.5 267.7h0M202.5 268.0h0M207.4 268.3h0M212.4 268.5h0M217.3 268.7h0M222.2 268.9h0M227.2 269.1h0M232.1 269.3h0M237.1 269.5h0M242.0 269.7h0M246.9 270.0h0M251.9 270.2h0M256.8 270.5h0M261.8 270.8h0M266.7 271.1h0M271.6 271.3h0M276.6 271.6h0M281.5 271.9h0M286.5 272.2h0M291.4 272.5h0M296.3 272.8h0M301.3 273.1h0M306.2 273.3h0M311.2 273.5h0M316.1 273.7h0M321.0 273.8h0M326.0 274.0h0M330.9 274.1h0M335.9 274.2h0M340.8 274.3h0M345.7 274.4h0M350.7 274.6h0M355.6 274.7h0M360.6 274.8h0M365.5 274.8h0M370.4 274.9h0M375.4 275.0h0M380.3 275.0h0M385.2 275.0h0M390.2 275.0h0M395.1 275.0h0M400.1 275.0h0M405.0 275.0h0M410.0 275.0h0M414.9 274.9h0M419.8 274.9h0M424.8 274.9h0M429.7 274.8h0M434.7 274.8h0M439.6 274.7h0M444.5 274.6h0M449.5 274.6h0M454.4 274.5h0M459.4 274.4h0M464.3 274.3h0M469.2 274.2h0M474.2 274.1h0M479.1 274.0h0M484.1 273.9h0M489.0 273.8h0M493.9 273.7h0M498.9 273.6h0M503.8 273.5h0M508.8 273.4h0M513.7 273.3h0M518.6 273.2h0M523.6 273.1h0M528.5 273.0h0M533.5 272.9h0" stroke-width="3.3" stroke-linecap="round"/></g>
<g stroke="#0b4438" fill="none"><path d="M44.4 297.5 L49.3 278.7 L54.3 265.7 L59.2 258.2 L64.2 253.5 L69.1 250.0 L74.0 246.9 L79.0 244.2 L83.9 242.2 L88.9 240.6 L93.8 239.2 L98.7 237.8 L103.7 236.2 L108.6 234.5 L113.6 232.9 L118.5 231.6 L123.4 230.4 L128.4 229.3 L133.3 228.3 L138.2 227.6 L143.2 227.0 L148.1 226.6 L153.1 226.2 L158.0 225.8 L163.0 225.5 L167.9 225.2 L172.8 224.9 L177.8 224.6 L182.7 224.4 L187.7 224.2 L192.6 224.0 L197.5 223.8 L202.5 223.7 L207.4 223.6 L212.4 223.6 L217.3 223.6 L222.2 223.6 L227.2 223.6 L232.1 223.6 L237.1 223.6 L242.0 223.6 L246.9 223.6 L251.9 223.6 L256.8 223.6 L261.8 223.6 L266.7 223.6 L271.6 223.6 L276.6 223.6 L281.5 223.6 L286.5 223.6 L291.4 223.7 L296.3 224.0 L301.3 224.1 L306.2 224.3 L311.2 224.5 L316.1 224.6 L321.0 224.7 L326.0 224.9 L330.9 225.0 L335.9 225.1 L340.8 225.3 L345.7 225.4 L350.7 225.5 L355.6 225.6 L360.6 225.8 L365.5 225.9 L370.4 226.0 L375.4 226.1 L380.3 226.3 L385.2 226.4 L390.2 226.6 L395.1 226.8 L400.1 226.9 L405.0 227.0 L410.0 227.1 L414.9 227.2 L419.8 227.3 L424.8 227.4 L429.7 227.4 L434.7 227.5 L439.6 227.6 L444.5 227.7 L449.5 227.7 L454.4 227.8 L459.4 227.9 L464.3 228.0 L469.2 228.0 L474.2 228.1 L479.1 228.1 L484.1 228.2 L489.0 228.3 L493.9 228.3 L498.9 228.4 L503.8 228.4 L508.8 228.5 L513.7 228.5 L518.6 228.6 L523.6 228.6 L528.5 228.7 L533.5 228.7" stroke-width="0.7" stroke-opacity="0.6"/><path d="M44.4 297.5h0M49.3 278.7h0M54.3 265.7h0M59.2 258.2h0M64.2 253.5h0M69.1 250.0h0M74.0 246.9h0M79.0 244.2h0M83.9 242.2h0M88.9 240.6h0M93.8 239.2h0M98.7 237.8h0M103.7 236.2h0M108.6 234.5h0M113.6 232.9h0M118.5 231.6h0M123.4 230.4h0M128.4 229.3h0M133.3 228.3h0M138.2 227.6h0M143.2 227.0h0M148.1 226.6h0M153.1 226.2h0M158.0 225.8h0M163.0 225.5h0M167.9 225.2h0M172.8 224.9h0M177.8 224.6h0M182.7 224.4h0M187.7 224.2h0M192.6 224.0h0M197.5 223.8h0M202.5 223.7h0M207.4 223.6h0M212.4 223.6h0M217.3 223.6h0M222.2 223.6h0M227.2 223.6h0M232.1 223.6h0M237.1 223.6h0M242.0 223.6h0M246.9 223.6h0M251.9 223.6h0M256.8 223.6h0M261.8 223.6h0M266.7 223.6h0M271.6 223.6h0M276.6 223.6h0M281.5 223.6h0M286.5 223.6h0M291.4 223.7h0M296.3 224.0h0M301.3 224.1h0M306.2 224.3h0M311.2 224.5h0M316.1 224.6h0M321.0 224.7h0M326.0 224.9h0M330.9 225.0h0M335.9 225.1h0M340.8 225.3h0M345.7 225.4h0M350.7 225.5h0M355.6 225.6h0M360.6 225.8h0M365.5 225.9h0M370.4 226.0h0M375.4 226.1h0M380.3 226.3h0M385.2 226.4h0M390.2 226.6h0M395.1 226.8h0M400.1 226.9h0M405.0 227.0h0M410.0 227.1h0M414.9 227.2h0M419.8 227.3h0M424.8 227.4h0M429.7 227.4h0M434.7 227.5h0M439.6 227.6h0M444.5 227.7h0M449.5 227.7h0M454.4 227.8h0M459.4 227.9h0M464.3 228.0h0M469.2 228.0h0M474.2 228.1h0M479.1 228.1h0M484.1 228.2h0M489.0 228.3h0M493.9 228.3h0M498.9 228.4h0M503.8 228.4h0M508.8 228.5h0M513.7 228.5h0M518.6 228.6h0M523.6 228.6h0M528.5 228.7h0M533.5 228.7h0" stroke-width="3.3" stroke-linecap="round"/></g>
<g stroke="#1058ff" fill="none"><path d="M44.4 301.8 L49.3 287.0 L54.3 275.6 L59.2 269.5 L64.2 265.0 L69.1 261.1 L74.0 258.2 L79.0 255.0 L83.9 252.7 L88.9 250.3 L93.8 248.1 L98.7 246.0 L103.7 244.2 L108.6 242.4 L113.6 241.3 L118.5 240.2 L123.4 239.0 L128.4 237.8 L133.3 236.8 L138.2 235.9 L143.2 235.2 L148.1 234.6 L153.1 234.1 L158.0 233.6 L163.0 233.1 L167.9 232.7 L172.8 232.2 L177.8 231.8 L182.7 231.5 L187.7 231.2 L192.6 231.0 L197.5 230.8 L202.5 230.6 L207.4 230.5 L212.4 230.3 L217.3 230.2 L222.2 230.1 L227.2 230.1 L232.1 230.0 L237.1 230.0 L242.0 230.0 L246.9 230.0 L251.9 230.1 L256.8 230.1 L261.8 230.2 L266.7 230.2 L271.6 230.3 L276.6 230.3 L281.5 230.4 L286.5 230.4 L291.4 230.4 L296.3 230.5 L301.3 230.5 L306.2 230.6 L311.2 230.8 L316.1 231.0 L321.0 231.2 L326.0 231.4 L330.9 231.7 L335.9 231.8 L340.8 232.0 L345.7 232.2 L350.7 232.3 L355.6 232.5 L360.6 232.6 L365.5 232.8 L370.4 232.9 L375.4 233.1 L380.3 233.2 L385.2 233.3 L390.2 233.4 L395.1 233.5 L400.1 233.6 L405.0 233.7 L410.0 233.7 L414.9 233.8 L419.8 233.8 L424.8 233.9 L429.7 233.9 L434.7 233.9 L439.6 234.0 L444.5 234.0 L449.5 234.1 L454.4 234.2 L459.4 234.2 L464.3 234.3 L469.2 234.3 L474.2 234.4 L479.1 234.4 L484.1 234.5 L489.0 234.6 L493.9 234.6 L498.9 234.7 L503.8 234.7 L508.8 234.8 L513.7 234.9 L518.6 234.9 L523.6 235.0 L528.5 235.0 L533.5 235.1" stroke-width="0.7" stroke-opacity="0.6"/><path d="M44.4 301.8h0M49.3 287.0h0M54.3 275.6h0M59.2 269.5h0M64.2 265.0h0M69.1 261.1h0M74.0 258.2h0M79.0 255.0h0M83.9 252.7h0M88.9 250.3h0M93.8 248.1h0M98.7 246.0h0M103.7 244.2h0M108.6 242.4h0M113.6 241.3h0M118.5 240.2h0M123.4 239.0h0M128.4 237.8h0M133.3 236.8h0M138.2 235.9h0M143.2 235.2h0M148.1 234.6h0M153.1 234.1h0M158.0 233.6h0M163.0 233.1h0M167.9 232.7h0M172.8 232.2h0M177.8 231.8h0M182.7 231.5h0M187.7 231.2h0M192.6 231.0h0M197.5 230.8h0M202.5 230.6h0M207.4 230.5h0M212.4 230.3h0M217.3 230.2h0M222.2 230.1h0M227.2 230.1h0M232.1 230.0h0M237.1 230.0h0M242.0 230.0h0M246.9 230.0h0M251.9 230.1h0M256.8 230.1h0M261.8 230.2h0M266.7 230.2h0M271.6 230.3h0M276.6 230.3h0M281.5 230.4h0M286.5 230.4h0M291.4 230.4h0M296.3 230.5h0M301.3 230.5h0M306.2 230.6h0M311.2 230.8h0M316.1 231.0h0M321.0 231.2h0M326.0 231.4h0M330.9 231.7h0M335.9 231.8h0M340.8 232.0h0M345.7 232.2h0M350.7 232.3h0M355.6 232.5h0M360.6 232.6h0M365.5 232.8h0M370.4 232.9h0M375.4 233.1h0M380.3 233.2h0M385.2 233.3h0M390.2 233.4h0M395.1 233.5h0M400.1 233.6h0M405.0 233.7h0M410.0 233.7h0M414.9 233.8h0M419.8 233.8h0M424.8 233.9h0M429.7 233.9h0M434.7 233.9h0M439.6 234.0h0M444.5 234.0h0M449.5 234.1h0M454.4 234.2h0M459.4 234.2h0M464.3 234.3h0M469.2 234.3h0M474.2 234.4h0M479.1 234.4h0M484.1 234.5h0M489.0 234.6h0M493.9 234.6h0M498.9 234.7h0M503.8 234.7h0M508.8 234.8h0M513.7 234.9h0M518.6 234.9h0M523.6 235.0h0M528.5 235.0h0M533.5 235.1h0" stroke-width="3.3" stroke-linecap="round"/></g>
<g stroke="#00ff00" fill="none"><path d="M44.4 302.2 L49.3 289.5 L54.3 278.5 L59.2 271.3 L64.2 266.5 L69.1 262.5 L74.0 258.6 L79.0 254.5 L83.9 250.9 L88.9 247.9 L93.8 245.0 L98.7 242.4 L103.7 240.0 L108.6 237.4 L113.6 235.8 L118.5 234.2 L123.4 232.7 L128.4 231.1 L133.3 229.8 L138.2 228.6 L143.2 227.6 L148.1 226.7 L153.1 225.9 L158.0 225.2 L163.0 224.6 L167.9 224.1 L172.8 223.7 L177.8 223.4 L182.7 223.1 L187.7 222.8 L192.6 222.6 L197.5 222.4 L202.5 222.2 L207.4 222.1 L212.4 221.9 L217.3 221.8 L222.2 221.6 L227.2 221.4 L232.1 221.3 L237.1 221.3 L242.0 221.3 L246.9 221.3 L251.9 221.3 L256.8 221.3 L261.8 221.4 L266.7 221.4 L271.6 221.4 L276.6 221.4 L281.5 221.5 L286.5 221.5 L291.4 221.6 L296.3 221.7 L301.3 221.8 L306.2 222.0 L311.2 222.1 L316.1 222.2 L321.0 222.4 L326.0 222.5 L330.9 222.6 L335.9 222.7 L340.8 222.8 L345.7 222.9 L350.7 223.0 L355.6 223.1 L360.6 223.2 L365.5 223.2 L370.4 223.3 L375.4 223.4 L380.3 223.5 L385.2 223.6 L390.2 223.8 L395.1 223.9 L400.1 224.0 L405.0 224.0 L410.0 224.1 L414.9 224.1 L419.8 224.1 L424.8 224.1 L429.7 224.2 L434.7 224.2 L439.6 224.2 L444.5 224.2 L449.5 224.3 L454.4 224.3 L459.4 224.4 L464.3 224.4 L469.2 224.4 L474.2 224.5 L479.1 224.5 L484.1 224.5 L489.0 224.5 L493.9 224.5 L498.9 224.5 L503.8 224.5 L508.8 224.5 L513.7 224.5 L518.6 224.5 L523.6 224.5 L528.5 224.5 L533.5 224.5" stroke-width="0.7" stroke-opacity="0.6"/><path d="M44.4 302.2h0M49.3 289.5h0M54.3 278.5h0M59.2 271.3h0M64.2 266.5h0M69.1 262.5h0M74.0 258.6h0M79.0 254.5h0M83.9 250.9h0M88.9 247.9h0M93.8 245.0h0M98.7 242.4h0M103.7 240.0h0M108.6 237.4h0M113.6 235.8h0M118.5 234.2h0M123.4 232.7h0M128.4 231.1h0M133.3 229.8h0M138.2 228.6h0M143.2 227.6h0M148.1 226.7h0M153.1 225.9h0M158.0 225.2h0M163.0 224.6h0M167.9 224.1h0M172.8 223.7h0M177.8 223.4h0M182.7 223.1h0M187.7 222.8h0M192.6 222.6h0M197.5 222.4h0M202.5 222.2h0M207.4 222.1h0M212.4 221.9h0M217.3 221.8h0M222.2 221.6h0M227.2 221.4h0M232.1 221.3h0M237.1 221.3h0M242.0 221.3h0M246.9 221.3h0M251.9 221.3h0M256.8 221.3h0M261.8 221.4h0M266.7 221.4h0M271.6 221.4h0M276.6 221.4h0M281.5 221.5h0M286.5 221.5h0M291.4 221.6h0M296.3 221.7h0M301.3 221.8h0M306.2 222.0h0M311.2 222.1h0M316.1 222.2h0M321.0 222.4h0M326.0 222.5h0M330.9 222.6h0M335.9 222.7h0M340.8 222.8h0M345.7 222.9h0M350.7 223.0h0M355.6 223.1h0M360.6 223.2h0M365.5 223.2h0M370.4 223.3h0M375.4 223.4h0M380.3 223.5h0M385.2 223.6h0M390.2 223.8h0M395.1 223.9h0M400.1 224.0h0M405.0 224.0h0M410.0 224.1h0M414.9 224.1h0M419.8 224.1h0M424.8 224.1h0M429.7 224.2h0M434.7 224.2h0M439.6 224.2h0M444.5 224.2h0M449.5 224.3h0M454.4 224.3h0M459.4 224.4h0M464.3 224.4h0M469.2 224.4h0M474.2 224.5h0M479.1 224.5h0M484.1 224.5h0M489.0 224.5h0M493.9 224.5h0M498.9 224.5h0M503.8 224.5h0M508.8 224.5h0M513.7 224.5h0M518.6 224.5h0M523.6 224.5h0M528.5 224.5h0M533.5 224.5h0" stroke-width="3.3" stroke-linecap="round"/></g>
<rect x="35.3" y="10" width="1.2" height="353" fill="#8a8a8a" fill-opacity="0.55"/>
<rect x="31.2" y="7.2" width="4.3" height="359" fill="#000"/>
<rect x="31.2" y="7.2" width="509" height="3" fill="#000"/>
<rect x="537.0" y="7.2" width="3.1" height="359" fill="#111"/>
<rect x="31.2" y="363.0" width="509" height="3.2" fill="#111"/>
<text class="tk" x="4.35" y="15.0" textLength="22.05" lengthAdjust="spacingAndGlyphs">115</text>
<text class="tk" x="6.35" y="104.0" textLength="22.05" lengthAdjust="spacingAndGlyphs">110</text>
<text class="tk" x="4.35" y="191.3" textLength="22.05" lengthAdjust="spacingAndGlyphs">105</text>
<text class="tk" x="3.15" y="275.2" textLength="22.05" lengthAdjust="spacingAndGlyphs">100</text>
<text class="tk" x="10.60" y="363.0" textLength="14.70" lengthAdjust="spacingAndGlyphs">95</text>
<text class="tk" x="30.12" y="378.8" textLength="7.35" lengthAdjust="spacingAndGlyphs">0</text>
<text class="tk" x="127.55" y="378.8" textLength="14.70" lengthAdjust="spacingAndGlyphs">20</text>
<text class="tk" x="229.55" y="378.8" textLength="14.70" lengthAdjust="spacingAndGlyphs">40</text>
<text class="tk" x="328.55" y="378.8" textLength="14.70" lengthAdjust="spacingAndGlyphs">60</text>
<text class="tk" x="427.15" y="378.8" textLength="14.70" lengthAdjust="spacingAndGlyphs">80</text>
<text class="tk" x="524.27" y="378.8" textLength="22.05" lengthAdjust="spacingAndGlyphs">100</text>
<text class="ax" transform="translate(52.4 117.2) rotate(-90)" textLength="94.3" lengthAdjust="spacingAndGlyphs">Temperature (C)</text>
<text class="ax" x="440.9" y="353.5" textLength="90.6" lengthAdjust="spacingAndGlyphs">Iterations number</text>
<text class="hint" x="43.3" y="353.4" textLength="45.8" lengthAdjust="spacingAndGlyphs">Left button = zoom</text>
<path d="M349.0 22.9H360.0" stroke="#00ff00" stroke-width="2.8" stroke-opacity="0.8"/><path d="M355.00 15.50C357.17 17.13 358.95 18.61 358.95 20.68V25.12C358.95 27.19 357.17 28.67 355.00 30.30C352.83 28.67 351.05 27.19 351.05 25.12V20.68C351.05 18.61 352.83 17.13 355.00 15.50Z" fill="#00ff00"/><text class="lg" x="364.9" y="28.2" textLength="67.3" lengthAdjust="spacingAndGlyphs">D1 Temp. [C]</text>
<path d="M349.0 38.4H360.0" stroke="#1058ff" stroke-width="2.8" stroke-opacity="0.8"/><path d="M355.00 31.00C357.17 32.63 358.95 34.11 358.95 36.18V40.62C358.95 42.69 357.17 44.17 355.00 45.80C352.83 44.17 351.05 42.69 351.05 40.62V36.18C351.05 34.11 352.83 32.63 355.00 31.00Z" fill="#1058ff"/><text class="lg" x="364.9" y="43.6" textLength="67.3" lengthAdjust="spacingAndGlyphs">D2 Temp. [C]</text>
<path d="M349.0 54.0H360.0" stroke="#0b4438" stroke-width="2.8" stroke-opacity="0.8"/><path d="M355.00 46.60C357.17 48.23 358.95 49.71 358.95 51.78V56.22C358.95 58.29 357.17 59.77 355.00 61.40C352.83 59.77 351.05 58.29 351.05 56.22V51.78C351.05 49.71 352.83 48.23 355.00 46.60Z" fill="#0b4438"/><text class="lg" x="364.9" y="59.1" textLength="67.3" lengthAdjust="spacingAndGlyphs">D3 Temp. [C]</text>
<path d="M349.0 70.3H360.0" stroke="#0e720e" stroke-width="2.8" stroke-opacity="0.8"/><path d="M355.00 62.90C357.17 64.53 358.95 66.01 358.95 68.08V72.52C358.95 74.59 357.17 76.07 355.00 77.70C352.83 76.07 351.05 74.59 351.05 72.52V68.08C351.05 66.01 352.83 64.53 355.00 62.90Z" fill="#0e720e"/><text class="lg" x="364.9" y="74.5" textLength="67.3" lengthAdjust="spacingAndGlyphs">D4 Temp. [C]</text>
<path d="M349.0 85.5H360.0" stroke="#00ffff" stroke-width="2.8" stroke-opacity="0.8"/><path d="M355.00 78.10C357.17 79.73 358.95 81.21 358.95 83.28V87.72C358.95 89.79 357.17 91.27 355.00 92.90C352.83 91.27 351.05 89.79 351.05 87.72V83.28C351.05 81.21 352.83 79.73 355.00 78.10Z" fill="#00ffff"/><text class="lg" x="364.9" y="90.1" textLength="67.3" lengthAdjust="spacingAndGlyphs">D5 Temp. [C]</text>
<path d="M349.0 101.0H360.0" stroke="#ff00ff" stroke-width="2.8" stroke-opacity="0.8"/><path d="M355.00 93.60C357.17 95.23 358.95 96.71 358.95 98.78V103.22C358.95 105.29 357.17 106.77 355.00 108.40C352.83 106.77 351.05 105.29 351.05 103.22V98.78C351.05 96.71 352.83 95.23 355.00 93.60Z" fill="#ff00ff"/><text class="lg" x="364.9" y="105.5" textLength="67.3" lengthAdjust="spacingAndGlyphs">D6 Temp. [C]</text>
<path d="M446.1 22.7H457.1" stroke="#00ffff" stroke-width="2.8" stroke-opacity="0.8"/><path d="M452.10 15.20C454.27 16.85 456.05 18.35 456.05 20.45V24.95C456.05 27.05 454.27 28.55 452.10 30.20C449.93 28.55 448.15 27.05 448.15 24.95V20.45C448.15 18.35 449.93 16.85 452.10 15.20Z" fill="#00ffff"/><text class="lg" x="461.8" y="27.6" textLength="63.7" lengthAdjust="spacingAndGlyphs">T1 Temp. [C]</text>
<path d="M446.1 37.2H457.1" stroke="#ff00ff" stroke-width="2.8" stroke-opacity="0.8"/><path d="M452.10 29.70C454.27 31.35 456.05 32.85 456.05 34.95V39.45C456.05 41.55 454.27 43.05 452.10 44.70C449.93 43.05 448.15 41.55 448.15 39.45V34.95C448.15 32.85 449.93 31.35 452.10 29.70Z" fill="#ff00ff"/><text class="lg" x="461.8" y="42.7" textLength="63.7" lengthAdjust="spacingAndGlyphs">T2 Temp. [C]</text>
<path d="M446.1 52.6H457.1" stroke="#ffff00" stroke-width="2.8" stroke-opacity="0.8"/><path d="M452.10 45.10C454.27 46.75 456.05 48.25 456.05 50.35V54.85C456.05 56.95 454.27 58.45 452.10 60.10C449.93 58.45 448.15 56.95 448.15 54.85V50.35C448.15 48.25 449.93 46.75 452.10 45.10Z" fill="#ffff00"/><text class="lg" x="461.8" y="57.7" textLength="63.7" lengthAdjust="spacingAndGlyphs">T3 Temp. [C]</text>
<path d="M446.1 68.0H457.1" stroke="#0000ff" stroke-width="2.8" stroke-opacity="0.8"/><path d="M452.10 60.50C454.27 62.15 456.05 63.65 456.05 65.75V70.25C456.05 72.35 454.27 73.85 452.10 75.50C449.93 73.85 448.15 72.35 448.15 70.25V65.75C448.15 63.65 449.93 62.15 452.10 60.50Z" fill="#0000ff"/><text class="lg" x="461.8" y="73.6" textLength="63.7" lengthAdjust="spacingAndGlyphs">T4 Temp. [C]</text>
<path d="M446.1 82.6H457.1" stroke="#14140a" stroke-width="2.8" stroke-opacity="0.8"/><path d="M452.10 75.10C454.27 76.75 456.05 78.25 456.05 80.35V84.85C456.05 86.95 454.27 88.45 452.10 90.10C449.93 88.45 448.15 86.95 448.15 84.85V80.35C448.15 78.25 449.93 76.75 452.10 75.10Z" fill="#14140a"/><text class="lg" x="461.8" y="87.8" textLength="63.7" lengthAdjust="spacingAndGlyphs">T5 Temp. [C]</text>
<path d="M446.1 97.9H457.1" stroke="#ff0000" stroke-width="2.8" stroke-opacity="0.8"/><path d="M452.10 90.40C454.27 92.05 456.05 93.55 456.05 95.65V100.15C456.05 102.25 454.27 103.75 452.10 105.40C449.93 103.75 448.15 102.25 448.15 100.15V95.65C448.15 93.55 449.93 92.05 452.10 90.40Z" fill="#ff0000"/><text class="lg" x="461.8" y="103.2" textLength="63.7" lengthAdjust="spacingAndGlyphs">T6 Temp. [C]</text>
<ellipse cx="31.5" cy="355.4" rx="1.1" ry="2.6" fill="#ffffff"/>
<rect x="450.8" y="105.5" width="3" height="1.4" rx="0.6" fill="#20e020"/>
</svg></body></html>
